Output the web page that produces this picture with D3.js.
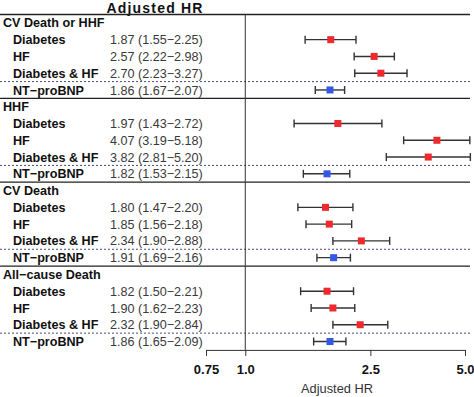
<!DOCTYPE html>
<html>
<head>
<meta charset="utf-8">
<script src="https://cdn.jsdelivr.net/npm/d3@7"></script>
<style>
  html, body { margin: 0; padding: 0; background: #fff; }
  svg { display: block; font-family: "Liberation Sans", Arial, Helvetica, sans-serif; }
</style>
</head>
<body>
<svg id="chart" width="474" height="397"></svg>
<script>
// ---- data ----
const outcomes = ["CV Death or HHF", "HHF", "CV Death", "All\u2212cause Death"];
const groups = ["Diabetes", "HF", "Diabetes & HF", "NT\u2212proBNP"];
const hrValues = [
  [1.87, 2.57, 2.70, 1.86],
  [1.97, 4.07, 3.82, 1.82],
  [1.80, 1.85, 2.34, 1.91],
  [1.82, 1.90, 2.32, 1.86]
];
const lowerCI = [
  [1.55, 2.22, 2.23, 1.67],
  [1.43, 3.19, 2.81, 1.53],
  [1.47, 1.56, 1.90, 1.69],
  [1.50, 1.62, 1.90, 1.65]
];
const upperCI = [
  [2.25, 2.98, 3.27, 2.07],
  [2.72, 5.18, 5.20, 2.15],
  [2.20, 2.18, 2.88, 2.16],
  [2.21, 2.23, 2.84, 2.09]
];
const tickValues = [0.75, 1.0, 2.5, 5.0];
const tickLabels = ["0.75", "1.0", "2.5", "5.0"];
const headerTitle = "Adjusted HR";
const axisTitle = "Adjusted HR";

// ---- layout ----
const svg = d3.select("#chart");
const topY = 14.5, rowH = 16.77, nRows = 20;
const y = d3.scaleLinear().domain([0, nRows]).range([topY, topY + nRows * rowH]);
const x = d3.scaleLog().domain([0.75, 5.0]).range([206, 465]);
const lineRight = 470;
const red = "#ee2a2e", blue = "#3458e6";

// rows
const rows = [];
outcomes.forEach((o, si) => {
  rows.push({ type: "header", label: o, idx: si * 5 });
  groups.forEach((g, gi) => {
    rows.push({
      type: "item", label: g, idx: si * 5 + 1 + gi,
      hr: hrValues[si][gi], lo: lowerCI[si][gi], hi: upperCI[si][gi],
      nt: gi === 3
    });
  });
});
const fmt = d3.format(".2f");

// header title
svg.append("text").attr("x", 155).attr("y", 12.8)
  .attr("text-anchor", "middle").attr("font-weight", "bold").attr("font-size", 14)
  .attr("letter-spacing", 1.2)
  .attr("fill", "#111").text(headerTitle);

// top line and solid separators
const solidYs = [0, 5, 10, 15];
svg.selectAll("line.solid").data(solidYs).enter().append("line")
  .attr("class", "solid")
  .attr("x1", 0).attr("x2", lineRight)
  .attr("y1", d => y(d)).attr("y2", d => y(d))
  .attr("stroke", "#222").attr("stroke-width", 1.3);

// dotted separators
const dottedYs = [4, 9, 14, 19];
svg.selectAll("line.dotted").data(dottedYs).enter().append("line")
  .attr("class", "dotted")
  .attr("x1", 0).attr("x2", lineRight)
  .attr("y1", d => y(d)).attr("y2", d => y(d))
  .attr("stroke", "#4a4c7c").attr("stroke-width", 1).attr("stroke-dasharray", "2,2");

// reference line at 1
svg.append("line")
  .attr("x1", x(1)).attr("x2", x(1))
  .attr("y1", y(0)).attr("y2", y(nRows))
  .attr("stroke", "#333").attr("stroke-width", 1);

// labels
svg.selectAll("text.lab").data(rows).enter().append("text")
  .attr("class", "lab")
  .attr("x", d => d.type === "header" ? 3 : 13)
  .attr("y", d => y(d.idx + 0.5))
  .attr("dy", "0.36em")
  .attr("font-weight", "bold").attr("font-size", 12.6).attr("fill", "#111")
  .text(d => d.label);

const items = rows.filter(d => d.type === "item");
svg.selectAll("text.val").data(items).enter().append("text")
  .attr("class", "val")
  .attr("x", 110)
  .attr("y", d => y(d.idx + 0.5))
  .attr("dy", "0.36em")
  .attr("font-size", 12.6).attr("fill", "#3a3a3a")
  .text(d => `${fmt(d.hr)} (${fmt(d.lo)}\u2212${fmt(d.hi)})`);

// whiskers
const g = svg.append("g");
items.forEach(d => {
  const cy = y(d.idx + 0.5);
  g.append("line").attr("x1", x(d.lo)).attr("x2", x(d.hi)).attr("y1", cy).attr("y2", cy)
    .attr("stroke", "#333").attr("stroke-width", 1.4);
  [d.lo, d.hi].forEach(v => {
    g.append("line").attr("x1", x(v)).attr("x2", x(v)).attr("y1", cy - 4).attr("y2", cy + 4)
      .attr("stroke", "#333").attr("stroke-width", 1.4);
  });
  g.append("rect").attr("x", x(d.hr) - 3.5).attr("y", cy - 3.5)
    .attr("width", 7).attr("height", 7)
    .attr("fill", d.nt ? blue : red);
});

// axis
const axis = d3.axisBottom(x).tickValues(tickValues)
  .tickFormat((d, i) => tickLabels[i]).tickSize(6).tickSizeOuter(0);
const ax = svg.append("g").attr("transform", `translate(0,${y(nRows)})`).call(axis);
ax.select(".domain").attr("stroke", "#333").attr("stroke-width", 1);
ax.selectAll(".tick line").attr("stroke", "#333").attr("stroke-width", 1);
ax.selectAll(".tick text").attr("font-family", "Liberation Sans, Arial, sans-serif")
  .attr("font-size", 13).attr("font-weight", "bold").attr("fill", "#111")
  .attr("y", 15).attr("dy", "0.71em");

svg.append("text").attr("x", 337).attr("y", 393)
  .attr("text-anchor", "middle").attr("font-size", 12.8).attr("fill", "#333")
  .text(axisTitle);
</script>
</body>
</html>
